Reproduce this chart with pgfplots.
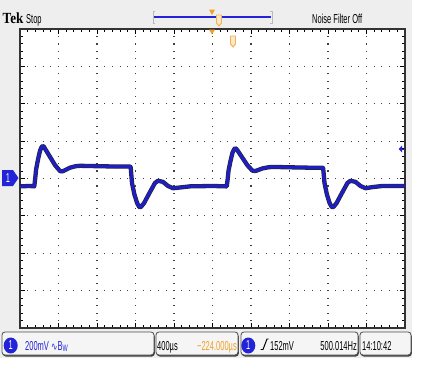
\documentclass[border=0pt]{standalone}
\usepackage{pgfplots}
\pgfplotsset{compat=1.18}
\usepackage{pgfplotstable}
\usepackage{fontspec}
\setmainfont{Liberation Sans}
\newfontfamily\tek{Liberation Sans}[FakeStretch=0.58]
\newfontfamily\tekb{Liberation Serif}[FakeStretch=0.85]
\newfontfamily\dejavu{DejaVu Sans}[FakeStretch=0.7]
\definecolor{panel}{RGB}{238,238,238}
\definecolor{tblue}{RGB}{35,35,215}
\definecolor{trace}{RGB}{30,30,200}
\definecolor{torange}{RGB}{240,160,40}
\newcommand{\tf}{\tek\fontsize{13}{14}\selectfont}

\pgfplotstableread{
x y
-5.000 -0.21
-4.75 -0.20
-4.629 -0.21
-4.60 0.05
-4.584 0.23
-4.53 0.52
-4.481 0.74
-4.44 0.84
-4.410 0.87
-4.38 0.85
-4.351 0.80
-4.221 0.58
-4.091 0.36
-3.961 0.20
-3.90 0.19
-3.857 0.21
-3.701 0.29
-3.55 0.33
-3.442 0.34
-3.0 0.33
-2.5 0.32
-2.14 0.32
-2.125 0.30
-2.091 -0.12
-2.03 -0.42
-1.961 -0.65
-1.91 -0.75
-1.883 -0.77
-1.85 -0.75
-1.779 -0.66
-1.623 -0.36
-1.494 -0.12
-1.416 -0.06
-1.286 -0.09
-1.156 -0.20
-1.026 -0.26
-0.844 -0.24
-0.584 -0.21
0.0 -0.20
0.35 -0.21
0.371 -0.21
0.40 0.04
0.416 0.21
0.47 0.48
0.519 0.69
0.56 0.78
0.590 0.81
0.62 0.79
0.649 0.75
0.779 0.55
0.909 0.35
1.039 0.21
1.10 0.20
1.143 0.21
1.299 0.27
1.45 0.30
1.558 0.31
2.0 0.30
2.5 0.29
2.86 0.29
2.875 0.27
2.909 -0.12
2.97 -0.42
3.039 -0.65
3.09 -0.75
3.117 -0.77
3.15 -0.75
3.221 -0.66
3.377 -0.36
3.506 -0.12
3.584 -0.06
3.714 -0.09
3.844 -0.20
3.974 -0.26
4.156 -0.23
4.416 -0.20
5.0 -0.20
}\tracedata

\begin{document}
\begin{tikzpicture}
\begin{scope}[x=1bp,y=-1bp]
\fill[white] (0,0) rectangle (441,377);
\fill[panel] (0,0) rectangle (412,358);
\fill[white] (20,29) rectangle (405,328);
% top bar
\node[anchor=base west,inner sep=0] at (2.5,23) {\tekb\fontsize{15.5}{16}\selectfont\bfseries Tek};
\node[anchor=base west,inner sep=0] at (26,23) {\tf Stop};
\node[anchor=base west,inner sep=0] at (312,23) {\tf Noise Filter Off};
\draw[gray!55,line width=0.8] (155,11)--(153,11)--(153,23)--(155,23);
\draw[gray!55,line width=0.8] (270,11)--(272,11)--(272,23)--(270,23);
\draw[tblue,line width=1.2] (154,17)--(271,17);
\fill[torange] (209,9.5)--(215,9.5)--(212,15)--cycle;
\draw[torange!80,fill=torange!25,line width=1] (216.5,15)--(221.5,15)--(221.5,23)--(219,26)--(216.5,23)--cycle;
% left channel marker
\fill[tblue] (2,170)--(13,170)--(18.5,178)--(13,186)--(2,186)--cycle;
\node[text=white,inner sep=0] at (8,178) {\tf 1};
% bottom boxes
\foreach \a/\b in {2/154,156/238,241/358,360/411}{
  \fill[black!75,rounded corners=3] (\a+0.8,333.5) rectangle (\b+0.8,356.5);
  \draw[black!70,fill=gray!8,line width=0.8,rounded corners=3] (\a,332) rectangle (\b,355);
}
\fill[tblue] (10.7,345.5) ellipse [x radius=7,y radius=8];
\node[text=white,inner sep=0] at (10.7,345.5) {\tf 1};
\node[anchor=base west,inner sep=0,text=tblue] at (25,350) {\tf 200mV};
\node[anchor=base west,inner sep=0,text=tblue] at (51,350) {{\dejavu\fontsize{11}{12}\selectfont ∿}{\tf B\raisebox{-1.5bp}{\fontsize{9.5}{10}\selectfont W}}};
\node[anchor=base west,inner sep=0] at (157,350) {\tf 400µs};
\node[anchor=base east,inner sep=0,text=torange] at (237,350) {\tf −224.000µs};
\fill[tblue] (248.3,345.5) ellipse [x radius=7,y radius=8];
\node[text=white,inner sep=0] at (248.3,345.5) {\tf 1};
\draw[black,line width=1] (260.5,349.5)--(263,349.5)--(267,339)--(268.5,339);
\node[anchor=base west,inner sep=0] at (270,350) {\tf 152mV};
\node[anchor=base east,inner sep=0] at (357,350) {\tf 500.014Hz};
\node[anchor=base west,inner sep=0] at (362,350) {\tf 14:10:42};
\end{scope}

\begin{axis}[
  at={(20bp,-328bp)}, anchor=south west,
  scale only axis, width=385bp, height=299bp,
  xmin=-5, xmax=5, ymin=-4, ymax=4,
  xtick={-4,...,4}, ytick={-3,...,3},
  minor xtick={-4.8,-4.6,...,4.9},
  minor ytick={-3.8,-3.6,...,3.9},
  xticklabel=\empty, yticklabel=\empty,
  major tick length=5bp, minor tick length=3bp,
  every tick/.style={black, line width=1bp},
  axis line style={black!80, line width=1.3bp},
  grid=major,
  x grid style={black!75, line width=1.1bp, dash pattern=on 1.1bp off 6.375bp, dash phase=0.55bp},
  y grid style={black!75, line width=1.1bp, dash pattern=on 1.1bp off 6.6bp, dash phase=0.55bp},
]
\addplot[black!85, line width=4.3bp, line join=round] table[x=x,y=y] {\tracedata};
\addplot[trace, line width=3bp, line join=round] table[x=x,y=y] {\tracedata};
\end{axis}

\begin{scope}[x=1bp,y=-1bp]
\fill[torange] (209,29.5)--(215,29.5)--(212,34.5)--cycle;
\draw[torange!80,fill=torange!25,line width=1] (230.5,36)--(235.5,36)--(235.5,44)--(233,47)--(230.5,44)--cycle;
\fill[tblue] (398.5,149)--(402,145.5)--(402,152.5)--cycle;
\draw[tblue,line width=1] (401,149)--(405,149);
\end{scope}
\pgfresetboundingbox
\path[use as bounding box] (0,0) rectangle (441bp,-377bp);
\end{tikzpicture}
\end{document}
